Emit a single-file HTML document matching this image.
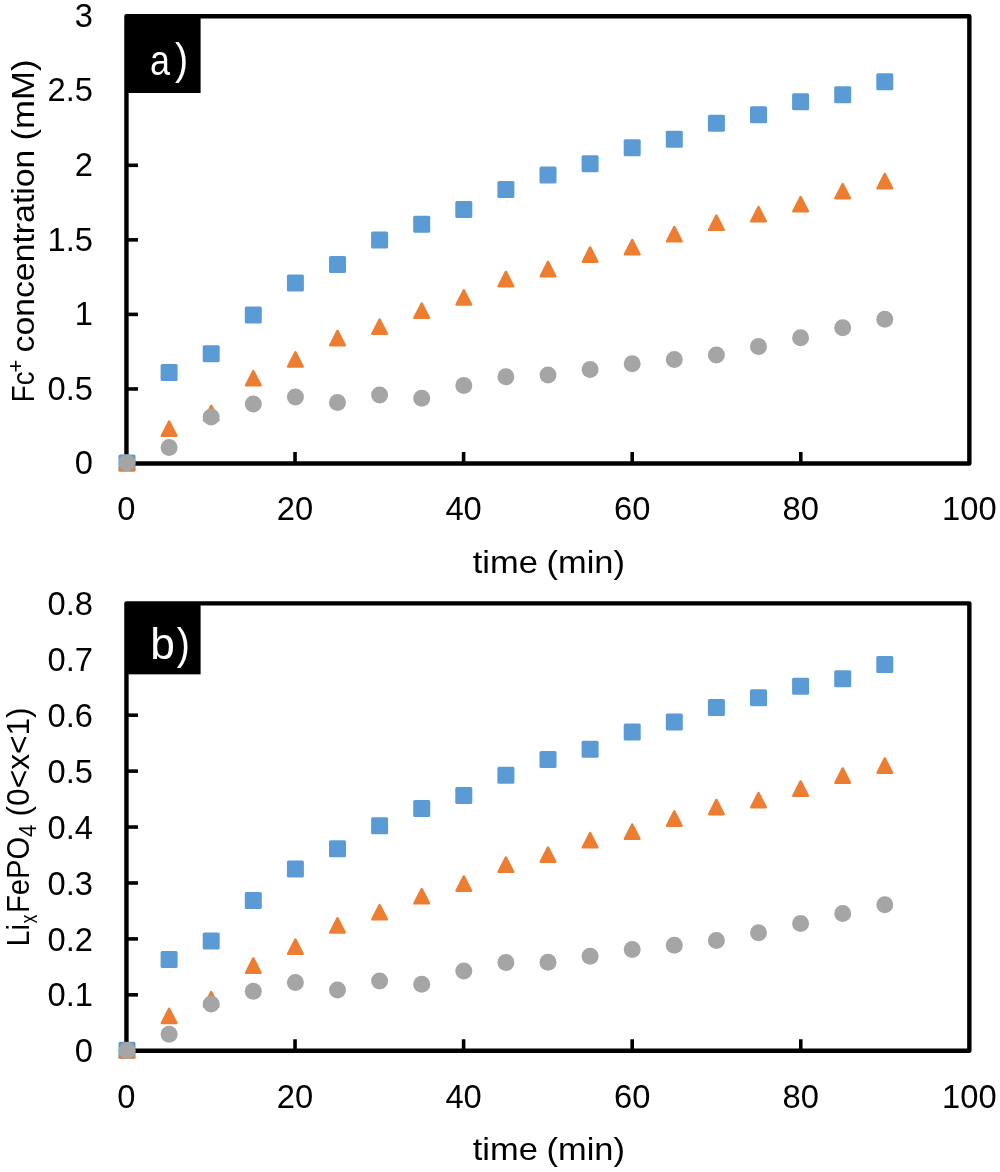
<!DOCTYPE html>
<html lang="en"><head><meta charset="utf-8"><title>Fc+ concentration and LixFePO4 vs time</title>
<style>html,body{margin:0;padding:0;background:#fff}body{width:1000px;height:1172px;overflow:hidden}svg{display:block}text{font-family:"Liberation Sans", sans-serif;fill:#000}</style>
</head><body>
<svg width="1000" height="1172" viewBox="0 0 1000 1172">
<rect x="0" y="0" width="1000" height="1172" fill="#ffffff"/>
<g>
<rect x="126.45" y="16.2" width="842.9" height="447.3" fill="none" stroke="#000" stroke-width="4.4" stroke-linejoin="round"/>
<text transform="translate(93,474.2) scale(0.985,1)" font-size="33.2" text-anchor="end">0</text>
<line x1="126.45" y1="388.95" x2="137.95" y2="388.95" stroke="#000" stroke-width="3.6"/>
<text transform="translate(93,399.65) scale(0.985,1)" font-size="33.2" text-anchor="end">0.5</text>
<line x1="126.45" y1="314.4" x2="137.95" y2="314.4" stroke="#000" stroke-width="3.6"/>
<text transform="translate(93,325.1) scale(0.985,1)" font-size="33.2" text-anchor="end">1</text>
<line x1="126.45" y1="239.85" x2="137.95" y2="239.85" stroke="#000" stroke-width="3.6"/>
<text transform="translate(93,250.55) scale(0.985,1)" font-size="33.2" text-anchor="end">1.5</text>
<line x1="126.45" y1="165.3" x2="137.95" y2="165.3" stroke="#000" stroke-width="3.6"/>
<text transform="translate(93,176) scale(0.985,1)" font-size="33.2" text-anchor="end">2</text>
<line x1="126.45" y1="90.75" x2="137.95" y2="90.75" stroke="#000" stroke-width="3.6"/>
<text transform="translate(93,101.45) scale(0.985,1)" font-size="33.2" text-anchor="end">2.5</text>
<text transform="translate(93,26.9) scale(0.985,1)" font-size="33.2" text-anchor="end">3</text>
<text transform="translate(126.45,520.3) scale(0.985,1)" font-size="33.2" text-anchor="middle">0</text>
<line x1="295.03" y1="463.5" x2="295.03" y2="452" stroke="#000" stroke-width="3.6"/>
<text transform="translate(295.03,520.3) scale(0.985,1)" font-size="33.2" text-anchor="middle">20</text>
<line x1="463.61" y1="463.5" x2="463.61" y2="452" stroke="#000" stroke-width="3.6"/>
<text transform="translate(463.61,520.3) scale(0.985,1)" font-size="33.2" text-anchor="middle">40</text>
<line x1="632.19" y1="463.5" x2="632.19" y2="452" stroke="#000" stroke-width="3.6"/>
<text transform="translate(632.19,520.3) scale(0.985,1)" font-size="33.2" text-anchor="middle">60</text>
<line x1="800.77" y1="463.5" x2="800.77" y2="452" stroke="#000" stroke-width="3.6"/>
<text transform="translate(800.77,520.3) scale(0.985,1)" font-size="33.2" text-anchor="middle">80</text>
<text transform="translate(969.35,520.3) scale(0.985,1)" font-size="33.2" text-anchor="middle">100</text>
<text transform="translate(472.71,572.7) scale(1.077,1)" font-size="32">time</text>
<text transform="translate(546.6,572.7) scale(1.076,1)" font-size="32">(min)</text>
<text transform="translate(34,402.17) rotate(-90) scale(0.8625,1)" font-size="32">Fc</text><text transform="translate(23.1,372.57) rotate(-90) scale(0.973,1)" font-size="22.5">+</text><text transform="translate(34,352.52) rotate(-90) scale(1.0564,1)" font-size="32">concentration</text><text transform="translate(34,140.47) rotate(-90) scale(1.0855,1)" font-size="32">(mM)</text>
<rect x="118.5" y="454.5" width="17" height="17" rx="1.6" fill="#5B9BD5"/>
<rect x="160.6" y="364" width="17" height="17" rx="1.6" fill="#5B9BD5"/>
<rect x="202.7" y="345.2" width="17" height="17" rx="1.6" fill="#5B9BD5"/>
<rect x="244.8" y="306.5" width="17" height="17" rx="1.6" fill="#5B9BD5"/>
<rect x="286.9" y="274.5" width="17" height="17" rx="1.6" fill="#5B9BD5"/>
<rect x="329" y="256" width="17" height="17" rx="1.6" fill="#5B9BD5"/>
<rect x="371.1" y="231.5" width="17" height="17" rx="1.6" fill="#5B9BD5"/>
<rect x="413.2" y="215.75" width="17" height="17" rx="1.6" fill="#5B9BD5"/>
<rect x="455.3" y="201" width="17" height="17" rx="1.6" fill="#5B9BD5"/>
<rect x="497.4" y="181" width="17" height="17" rx="1.6" fill="#5B9BD5"/>
<rect x="539.5" y="166.5" width="17" height="17" rx="1.6" fill="#5B9BD5"/>
<rect x="581.6" y="155.25" width="17" height="17" rx="1.6" fill="#5B9BD5"/>
<rect x="623.7" y="139.25" width="17" height="17" rx="1.6" fill="#5B9BD5"/>
<rect x="665.8" y="130.75" width="17" height="17" rx="1.6" fill="#5B9BD5"/>
<rect x="707.9" y="114.75" width="17" height="17" rx="1.6" fill="#5B9BD5"/>
<rect x="750" y="106.25" width="17" height="17" rx="1.6" fill="#5B9BD5"/>
<rect x="792.1" y="93.25" width="17" height="17" rx="1.6" fill="#5B9BD5"/>
<rect x="834.2" y="86.25" width="17" height="17" rx="1.6" fill="#5B9BD5"/>
<rect x="876.3" y="73.25" width="17" height="17" rx="1.6" fill="#5B9BD5"/>
<path d="M127 456L134.3 470.3L119.7 470.3Z" fill="#ED7D31" stroke="#ED7D31" stroke-width="2.4" stroke-linejoin="round"/>
<path d="M169.1 421.5L176.4 435.8L161.8 435.8Z" fill="#ED7D31" stroke="#ED7D31" stroke-width="2.4" stroke-linejoin="round"/>
<path d="M211.2 405.9L218.5 420.2L203.9 420.2Z" fill="#ED7D31" stroke="#ED7D31" stroke-width="2.4" stroke-linejoin="round"/>
<path d="M253.3 371L260.6 385.3L246 385.3Z" fill="#ED7D31" stroke="#ED7D31" stroke-width="2.4" stroke-linejoin="round"/>
<path d="M295.4 352.3L302.7 366.6L288.1 366.6Z" fill="#ED7D31" stroke="#ED7D31" stroke-width="2.4" stroke-linejoin="round"/>
<path d="M337.5 330.9L344.8 345.2L330.2 345.2Z" fill="#ED7D31" stroke="#ED7D31" stroke-width="2.4" stroke-linejoin="round"/>
<path d="M379.6 319.5L386.9 333.8L372.3 333.8Z" fill="#ED7D31" stroke="#ED7D31" stroke-width="2.4" stroke-linejoin="round"/>
<path d="M421.7 303.5L429 317.8L414.4 317.8Z" fill="#ED7D31" stroke="#ED7D31" stroke-width="2.4" stroke-linejoin="round"/>
<path d="M463.8 290.25L471.1 304.55L456.5 304.55Z" fill="#ED7D31" stroke="#ED7D31" stroke-width="2.4" stroke-linejoin="round"/>
<path d="M505.9 271.9L513.2 286.2L498.6 286.2Z" fill="#ED7D31" stroke="#ED7D31" stroke-width="2.4" stroke-linejoin="round"/>
<path d="M548 261.9L555.3 276.2L540.7 276.2Z" fill="#ED7D31" stroke="#ED7D31" stroke-width="2.4" stroke-linejoin="round"/>
<path d="M590.1 247.4L597.4 261.7L582.8 261.7Z" fill="#ED7D31" stroke="#ED7D31" stroke-width="2.4" stroke-linejoin="round"/>
<path d="M632.2 240.1L639.5 254.4L624.9 254.4Z" fill="#ED7D31" stroke="#ED7D31" stroke-width="2.4" stroke-linejoin="round"/>
<path d="M674.3 227.1L681.6 241.4L667 241.4Z" fill="#ED7D31" stroke="#ED7D31" stroke-width="2.4" stroke-linejoin="round"/>
<path d="M716.4 215.6L723.7 229.9L709.1 229.9Z" fill="#ED7D31" stroke="#ED7D31" stroke-width="2.4" stroke-linejoin="round"/>
<path d="M758.5 207L765.8 221.3L751.2 221.3Z" fill="#ED7D31" stroke="#ED7D31" stroke-width="2.4" stroke-linejoin="round"/>
<path d="M800.6 197L807.9 211.3L793.3 211.3Z" fill="#ED7D31" stroke="#ED7D31" stroke-width="2.4" stroke-linejoin="round"/>
<path d="M842.7 184L850 198.3L835.4 198.3Z" fill="#ED7D31" stroke="#ED7D31" stroke-width="2.4" stroke-linejoin="round"/>
<path d="M884.8 173.9L892.1 188.2L877.5 188.2Z" fill="#ED7D31" stroke="#ED7D31" stroke-width="2.4" stroke-linejoin="round"/>
<circle cx="127" cy="462.8" r="8.5" fill="#A5A5A5"/>
<circle cx="169.1" cy="447.4" r="8.5" fill="#A5A5A5"/>
<circle cx="211.2" cy="417" r="8.5" fill="#A5A5A5"/>
<circle cx="253.3" cy="404" r="8.5" fill="#A5A5A5"/>
<circle cx="295.4" cy="397" r="8.5" fill="#A5A5A5"/>
<circle cx="337.5" cy="402.5" r="8.5" fill="#A5A5A5"/>
<circle cx="379.6" cy="395" r="8.5" fill="#A5A5A5"/>
<circle cx="421.7" cy="398.25" r="8.5" fill="#A5A5A5"/>
<circle cx="463.8" cy="385.5" r="8.5" fill="#A5A5A5"/>
<circle cx="505.9" cy="376.75" r="8.5" fill="#A5A5A5"/>
<circle cx="548" cy="375.1" r="8.5" fill="#A5A5A5"/>
<circle cx="590.1" cy="369.5" r="8.5" fill="#A5A5A5"/>
<circle cx="632.2" cy="363.75" r="8.5" fill="#A5A5A5"/>
<circle cx="674.3" cy="359.5" r="8.5" fill="#A5A5A5"/>
<circle cx="716.4" cy="355" r="8.5" fill="#A5A5A5"/>
<circle cx="758.5" cy="346.5" r="8.5" fill="#A5A5A5"/>
<circle cx="800.6" cy="337.75" r="8.5" fill="#A5A5A5"/>
<circle cx="842.7" cy="327.75" r="8.5" fill="#A5A5A5"/>
<circle cx="884.8" cy="319.25" r="8.5" fill="#A5A5A5"/>
<rect x="126.45" y="16.2" width="74.15" height="76.8" fill="#000"/>
<text transform="translate(149.9,74.6) scale(0.845,1.0)" font-size="42.5" style="fill:#fff">a</text>
<text transform="translate(174.94,74.1) scale(0.927,1.063)" font-size="42.5" style="fill:#fff">)</text>
</g>
<g>
<rect x="126.45" y="603.35" width="842.9" height="447.4" fill="none" stroke="#000" stroke-width="4.4" stroke-linejoin="round"/>
<text transform="translate(93,1062.35) scale(0.985,1)" font-size="33.2" text-anchor="end">0</text>
<line x1="126.45" y1="994.83" x2="137.95" y2="994.83" stroke="#000" stroke-width="3.6"/>
<text transform="translate(93,1006.43) scale(0.985,1)" font-size="33.2" text-anchor="end">0.1</text>
<line x1="126.45" y1="938.9" x2="137.95" y2="938.9" stroke="#000" stroke-width="3.6"/>
<text transform="translate(93,950.5) scale(0.985,1)" font-size="33.2" text-anchor="end">0.2</text>
<line x1="126.45" y1="882.98" x2="137.95" y2="882.98" stroke="#000" stroke-width="3.6"/>
<text transform="translate(93,894.58) scale(0.985,1)" font-size="33.2" text-anchor="end">0.3</text>
<line x1="126.45" y1="827.05" x2="137.95" y2="827.05" stroke="#000" stroke-width="3.6"/>
<text transform="translate(93,838.65) scale(0.985,1)" font-size="33.2" text-anchor="end">0.4</text>
<line x1="126.45" y1="771.12" x2="137.95" y2="771.12" stroke="#000" stroke-width="3.6"/>
<text transform="translate(93,782.73) scale(0.985,1)" font-size="33.2" text-anchor="end">0.5</text>
<line x1="126.45" y1="715.2" x2="137.95" y2="715.2" stroke="#000" stroke-width="3.6"/>
<text transform="translate(93,726.8) scale(0.985,1)" font-size="33.2" text-anchor="end">0.6</text>
<line x1="126.45" y1="659.28" x2="137.95" y2="659.28" stroke="#000" stroke-width="3.6"/>
<text transform="translate(93,670.88) scale(0.985,1)" font-size="33.2" text-anchor="end">0.7</text>
<text transform="translate(93,614.95) scale(0.985,1)" font-size="33.2" text-anchor="end">0.8</text>
<text transform="translate(126.45,1107.55) scale(0.985,1)" font-size="33.2" text-anchor="middle">0</text>
<line x1="295.03" y1="1050.75" x2="295.03" y2="1039.25" stroke="#000" stroke-width="3.6"/>
<text transform="translate(295.03,1107.55) scale(0.985,1)" font-size="33.2" text-anchor="middle">20</text>
<line x1="463.61" y1="1050.75" x2="463.61" y2="1039.25" stroke="#000" stroke-width="3.6"/>
<text transform="translate(463.61,1107.55) scale(0.985,1)" font-size="33.2" text-anchor="middle">40</text>
<line x1="632.19" y1="1050.75" x2="632.19" y2="1039.25" stroke="#000" stroke-width="3.6"/>
<text transform="translate(632.19,1107.55) scale(0.985,1)" font-size="33.2" text-anchor="middle">60</text>
<line x1="800.77" y1="1050.75" x2="800.77" y2="1039.25" stroke="#000" stroke-width="3.6"/>
<text transform="translate(800.77,1107.55) scale(0.985,1)" font-size="33.2" text-anchor="middle">80</text>
<text transform="translate(969.35,1107.55) scale(0.985,1)" font-size="33.2" text-anchor="middle">100</text>
<text transform="translate(472.71,1159.95) scale(1.077,1)" font-size="32">time</text>
<text transform="translate(546.6,1159.95) scale(1.076,1)" font-size="32">(min)</text>
<text transform="translate(29.3,946.23) rotate(-90) scale(0.885,1)" font-size="32">Li</text><text transform="translate(37,923.3) rotate(-90) scale(0.722,1)" font-size="24">x</text><text transform="translate(29.3,913.1) rotate(-90) scale(0.9123,1)" font-size="32">FePO</text><text transform="translate(36.4,836.97) rotate(-90) scale(0.94,1)" font-size="23.5">4</text><text transform="translate(29.3,816.5) rotate(-90) scale(0.99,1)" font-size="32">(0&lt;x&lt;1)</text>
<rect x="118.5" y="1041.8" width="17" height="17" rx="1.6" fill="#5B9BD5"/>
<rect x="160.6" y="951" width="17" height="17" rx="1.6" fill="#5B9BD5"/>
<rect x="202.7" y="932.5" width="17" height="17" rx="1.6" fill="#5B9BD5"/>
<rect x="244.8" y="892" width="17" height="17" rx="1.6" fill="#5B9BD5"/>
<rect x="286.9" y="860.5" width="17" height="17" rx="1.6" fill="#5B9BD5"/>
<rect x="329" y="840.25" width="17" height="17" rx="1.6" fill="#5B9BD5"/>
<rect x="371.1" y="817.25" width="17" height="17" rx="1.6" fill="#5B9BD5"/>
<rect x="413.2" y="800" width="17" height="17" rx="1.6" fill="#5B9BD5"/>
<rect x="455.3" y="787" width="17" height="17" rx="1.6" fill="#5B9BD5"/>
<rect x="497.4" y="766.75" width="17" height="17" rx="1.6" fill="#5B9BD5"/>
<rect x="539.5" y="751" width="17" height="17" rx="1.6" fill="#5B9BD5"/>
<rect x="581.6" y="740.75" width="17" height="17" rx="1.6" fill="#5B9BD5"/>
<rect x="623.7" y="723.5" width="17" height="17" rx="1.6" fill="#5B9BD5"/>
<rect x="665.8" y="713.5" width="17" height="17" rx="1.6" fill="#5B9BD5"/>
<rect x="707.9" y="699" width="17" height="17" rx="1.6" fill="#5B9BD5"/>
<rect x="750" y="689.25" width="17" height="17" rx="1.6" fill="#5B9BD5"/>
<rect x="792.1" y="677.75" width="17" height="17" rx="1.6" fill="#5B9BD5"/>
<rect x="834.2" y="670.25" width="17" height="17" rx="1.6" fill="#5B9BD5"/>
<rect x="876.3" y="656" width="17" height="17" rx="1.6" fill="#5B9BD5"/>
<path d="M127 1043.3L134.3 1057.6L119.7 1057.6Z" fill="#ED7D31" stroke="#ED7D31" stroke-width="2.4" stroke-linejoin="round"/>
<path d="M169.1 1008.8L176.4 1023.1L161.8 1023.1Z" fill="#ED7D31" stroke="#ED7D31" stroke-width="2.4" stroke-linejoin="round"/>
<path d="M211.2 992.1L218.5 1006.4L203.9 1006.4Z" fill="#ED7D31" stroke="#ED7D31" stroke-width="2.4" stroke-linejoin="round"/>
<path d="M253.3 958.4L260.6 972.7L246 972.7Z" fill="#ED7D31" stroke="#ED7D31" stroke-width="2.4" stroke-linejoin="round"/>
<path d="M295.4 939.6L302.7 953.9L288.1 953.9Z" fill="#ED7D31" stroke="#ED7D31" stroke-width="2.4" stroke-linejoin="round"/>
<path d="M337.5 918.25L344.8 932.55L330.2 932.55Z" fill="#ED7D31" stroke="#ED7D31" stroke-width="2.4" stroke-linejoin="round"/>
<path d="M379.6 905.1L386.9 919.4L372.3 919.4Z" fill="#ED7D31" stroke="#ED7D31" stroke-width="2.4" stroke-linejoin="round"/>
<path d="M421.7 889.1L429 903.4L414.4 903.4Z" fill="#ED7D31" stroke="#ED7D31" stroke-width="2.4" stroke-linejoin="round"/>
<path d="M463.8 876.4L471.1 890.7L456.5 890.7Z" fill="#ED7D31" stroke="#ED7D31" stroke-width="2.4" stroke-linejoin="round"/>
<path d="M505.9 857.6L513.2 871.9L498.6 871.9Z" fill="#ED7D31" stroke="#ED7D31" stroke-width="2.4" stroke-linejoin="round"/>
<path d="M548 847.5L555.3 861.8L540.7 861.8Z" fill="#ED7D31" stroke="#ED7D31" stroke-width="2.4" stroke-linejoin="round"/>
<path d="M590.1 833.1L597.4 847.4L582.8 847.4Z" fill="#ED7D31" stroke="#ED7D31" stroke-width="2.4" stroke-linejoin="round"/>
<path d="M632.2 824.6L639.5 838.9L624.9 838.9Z" fill="#ED7D31" stroke="#ED7D31" stroke-width="2.4" stroke-linejoin="round"/>
<path d="M674.3 811.4L681.6 825.7L667 825.7Z" fill="#ED7D31" stroke="#ED7D31" stroke-width="2.4" stroke-linejoin="round"/>
<path d="M716.4 799.9L723.7 814.2L709.1 814.2Z" fill="#ED7D31" stroke="#ED7D31" stroke-width="2.4" stroke-linejoin="round"/>
<path d="M758.5 793L765.8 807.3L751.2 807.3Z" fill="#ED7D31" stroke="#ED7D31" stroke-width="2.4" stroke-linejoin="round"/>
<path d="M800.6 781.4L807.9 795.7L793.3 795.7Z" fill="#ED7D31" stroke="#ED7D31" stroke-width="2.4" stroke-linejoin="round"/>
<path d="M842.7 768.4L850 782.7L835.4 782.7Z" fill="#ED7D31" stroke="#ED7D31" stroke-width="2.4" stroke-linejoin="round"/>
<path d="M884.8 758.4L892.1 772.7L877.5 772.7Z" fill="#ED7D31" stroke="#ED7D31" stroke-width="2.4" stroke-linejoin="round"/>
<circle cx="127" cy="1050.4" r="8.5" fill="#A5A5A5"/>
<circle cx="169.1" cy="1034.3" r="8.5" fill="#A5A5A5"/>
<circle cx="211.2" cy="1004" r="8.5" fill="#A5A5A5"/>
<circle cx="253.3" cy="991.25" r="8.5" fill="#A5A5A5"/>
<circle cx="295.4" cy="982.5" r="8.5" fill="#A5A5A5"/>
<circle cx="337.5" cy="989.9" r="8.5" fill="#A5A5A5"/>
<circle cx="379.6" cy="981" r="8.5" fill="#A5A5A5"/>
<circle cx="421.7" cy="984.25" r="8.5" fill="#A5A5A5"/>
<circle cx="463.8" cy="971" r="8.5" fill="#A5A5A5"/>
<circle cx="505.9" cy="962.5" r="8.5" fill="#A5A5A5"/>
<circle cx="548" cy="962.3" r="8.5" fill="#A5A5A5"/>
<circle cx="590.1" cy="956.3" r="8.5" fill="#A5A5A5"/>
<circle cx="632.2" cy="949.5" r="8.5" fill="#A5A5A5"/>
<circle cx="674.3" cy="945.2" r="8.5" fill="#A5A5A5"/>
<circle cx="716.4" cy="940.6" r="8.5" fill="#A5A5A5"/>
<circle cx="758.5" cy="932.8" r="8.5" fill="#A5A5A5"/>
<circle cx="800.6" cy="923.5" r="8.5" fill="#A5A5A5"/>
<circle cx="842.7" cy="913.4" r="8.5" fill="#A5A5A5"/>
<circle cx="884.8" cy="904.7" r="8.5" fill="#A5A5A5"/>
<rect x="126.45" y="603.35" width="74.15" height="71" fill="#000"/>
<text transform="translate(150.33,658.9) scale(1.042,1.037)" font-size="42.5" style="fill:#fff">b</text>
<text transform="translate(176.74,658.5) scale(0.927,1.063)" font-size="42.5" style="fill:#fff">)</text>
</g>
</svg>
</body></html>
